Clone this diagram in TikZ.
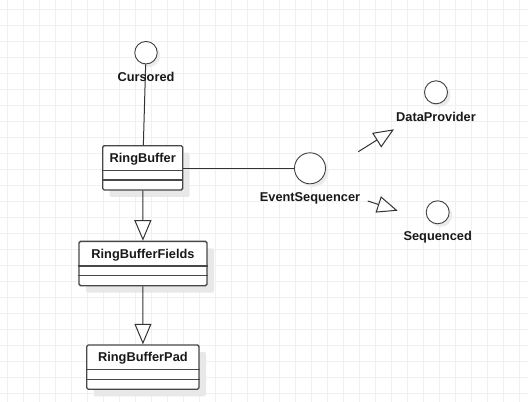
\documentclass[tikz,border=0pt]{standalone}
\usepackage{fontspec}
\setmainfont{Liberation Sans}
\usetikzlibrary{calc}
\usetikzlibrary{arrows.meta}
\usetikzlibrary{shadows}

\begin{document}
\begin{tikzpicture}[x=1pt, y=-1pt,
  gridline/.style={black!6, line width=1pt},
  lbl/.style={font=\bfseries\fontsize{12.8}{15}\selectfont, text=black!90, inner sep=0,
    text height=9.2pt, text depth=0pt},
  classbox/.style={draw=black!72, line width=1.3pt, fill=white, rounded corners=1.5pt,
    minimum height=44.3pt, inner sep=0,
    drop shadow={shadow xshift=7pt, shadow yshift=-7pt, fill=black!9, opacity=1}},
  classline/.style={black!72, line width=1.3pt},
  iface/.style={circle, draw=black!75, line width=0.9pt, fill=white, inner sep=0,
    drop shadow={shadow xshift=3pt, shadow yshift=-3pt, fill=black!8, opacity=1}},
  conn/.style={black!80, line width=1pt},
  extends/.style={conn, -{Triangle[open, length=20.5pt, width=17pt, line width=1pt]}}]
\fill[white] (0,0) rectangle (528,402);
\useasboundingbox (0,0) rectangle (528,402);
\foreach \gx in {7.3,23.3,...,527} \draw[gridline] (\gx,0) -- (\gx,402);
\foreach \gy in {9.3,25.3,...,401} \draw[gridline] (0,\gy) -- (528,\gy);

\node[iface, minimum size=22.5pt] (cursored) at (146,52.7) {};
\node[iface, minimum size=31pt] (eventseq) at (310,168.3) {};
\node[iface, minimum size=23pt] (dataprov) at (436,92.3) {};
\node[iface, minimum size=23pt] (sequenced) at (437.7,212.3) {};

\foreach \n/\t/\x/\y/\w in {rb/RingBuffer/142.7/145/80, rbf/RingBufferFields/143/240.7/128, rbp/RingBufferPad/142.9/344.3/112.3} {
 \node[classbox, minimum width=\w pt, anchor=north] (\n) at (\x,\y) {};
 \node[lbl] (\n-name) at ($(\n.north)+(0,12.7)$) {\t};
 \draw[classline] ($(\n.north west)+(0,25.3)$) -- ($(\n.north east)+(0,25.3)$);
 \draw[classline] ($(\n.north west)+(0,35)$) -- ($(\n.north east)+(0,35)$);
}

\draw[conn] (cursored) -- (rb);
\draw[conn] (rb.east |- eventseq.west) -- (eventseq.west);
\draw[extends] (rb) -- (rbf);
\draw[extends] (rbf) -- (rbp);

\node[lbl] (cursored-name) at (146,76.7) {Cursored};
\node[lbl] (eventseq-name) at (310,196.7) {EventSequencer};
\node[lbl] (dataprov-name) at (436,116.7) {DataProvider};
\node[lbl] (sequenced-name) at (437.7,235.7) {Sequenced};

\coordinate (dp-from) at (358.3,151.7);
\coordinate (dp-to) at (394,129.3);
\coordinate (sq-from) at (367.7,201);
\coordinate (sq-to) at (397.7,210.7);
\draw[extends] (dp-from) -- (dp-to);
\draw[extends] (sq-from) -- (sq-to);
\end{tikzpicture}
\end{document}
